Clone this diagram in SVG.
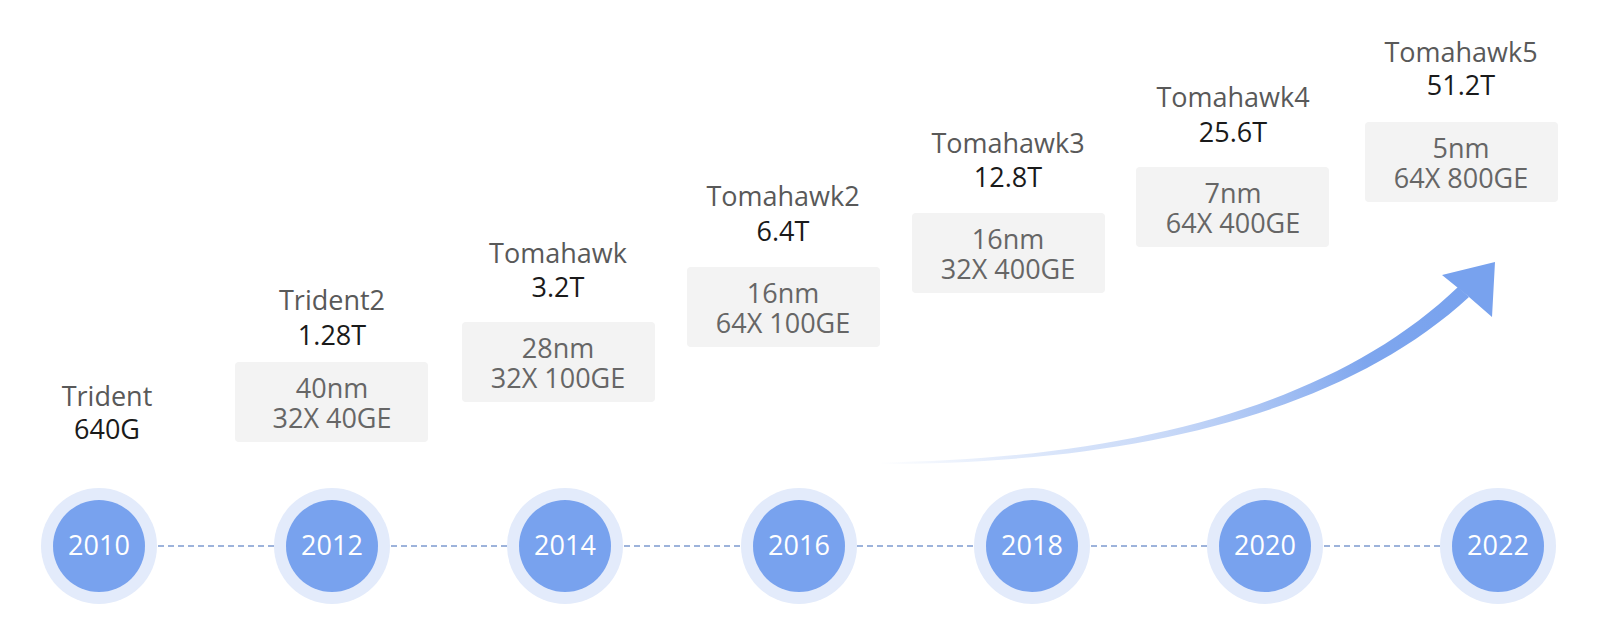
<svg xmlns="http://www.w3.org/2000/svg" width="1600" height="632" viewBox="0 0 1600 632">
<defs>
<style>
text{font-family:"Open Sans","Noto Sans","Liberation Sans",sans-serif;font-size:27px;text-anchor:middle}
.t{fill:#595959}
.v{fill:#1a1a1a}
.b{fill:#666666}
.y{fill:#ffffff;font-size:27px}
.box{fill:#f3f3f3}
.ring{fill:#e3ebfb}
.dot{fill:#78a2ee}
.dash{stroke:#7d9bd0;stroke-width:1.6;stroke-dasharray:6 4;fill:none}
</style>
<linearGradient id="ag" gradientUnits="userSpaceOnUse" x1="878" y1="460" x2="1470" y2="280">
<stop offset="0" stop-color="#78a2ee" stop-opacity="0"/>
<stop offset="0.45" stop-color="#9dbbf2" stop-opacity="0.55"/>
<stop offset="0.8" stop-color="#7ea6ee" stop-opacity="1"/>
<stop offset="1" stop-color="#78a2ee" stop-opacity="1"/>
</linearGradient>
</defs>
<rect width="1600" height="632" fill="#ffffff"/>

<g id="connectors">
<line class="dash" x1="158" y1="546" x2="274" y2="546"/>
<line class="dash" x1="391" y1="546" x2="507" y2="546"/>
<line class="dash" x1="624" y1="546" x2="740" y2="546"/>
<line class="dash" x1="857" y1="546" x2="974" y2="546"/>
<line class="dash" x1="1091" y1="546" x2="1207" y2="546"/>
<line class="dash" x1="1324" y1="546" x2="1440" y2="546"/>
</g>

<g id="trend-arrow">
<path d="M878 462.5 C1130 459 1335 405 1458 287 L1469 297 C1342 414 1130 464 878 464 Z" fill="url(#ag)"/>
<path d="M1495 262 L1442 275 L1463 292 L1469 297 L1492 317 Z" fill="#78a2ee"/>
</g>

<g id="y2010"><circle class="ring" cx="99" cy="546" r="58"/><circle class="dot" cx="99" cy="546" r="46"/><text class="y" x="99" y="555">2010</text></g>
<g id="y2012"><circle class="ring" cx="332" cy="546" r="58"/><circle class="dot" cx="332" cy="546" r="46"/><text class="y" x="332" y="555">2012</text></g>
<g id="y2014"><circle class="ring" cx="565" cy="546" r="58"/><circle class="dot" cx="565" cy="546" r="46"/><text class="y" x="565" y="555">2014</text></g>
<g id="y2016"><circle class="ring" cx="799" cy="546" r="58"/><circle class="dot" cx="799" cy="546" r="46"/><text class="y" x="799" y="555">2016</text></g>
<g id="y2018"><circle class="ring" cx="1032" cy="546" r="58"/><circle class="dot" cx="1032" cy="546" r="46"/><text class="y" x="1032" y="555">2018</text></g>
<g id="y2020"><circle class="ring" cx="1265" cy="546" r="58"/><circle class="dot" cx="1265" cy="546" r="46"/><text class="y" x="1265" y="555">2020</text></g>
<g id="y2022"><circle class="ring" cx="1498" cy="546" r="58"/><circle class="dot" cx="1498" cy="546" r="46"/><text class="y" x="1498" y="555">2022</text></g>

<g id="trident">
<text class="t" x="107" y="406">Trident</text>
<text class="v" x="107" y="439">640G</text>
</g>

<g id="trident2">
<text class="t" x="332" y="310">Trident2</text>
<text class="v" x="332" y="345">1.28T</text>
<rect class="box" x="235" y="362" width="193" height="80" rx="4"/>
<text class="b" x="332" y="398">40nm</text>
<text class="b" x="332" y="428">32X 40GE</text>
</g>

<g id="tomahawk">
<text class="t" x="558" y="263">Tomahawk</text>
<text class="v" x="558" y="297">3.2T</text>
<rect class="box" x="462" y="322" width="193" height="80" rx="4"/>
<text class="b" x="558" y="358">28nm</text>
<text class="b" x="558" y="388">32X 100GE</text>
</g>

<g id="tomahawk2">
<text class="t" x="783" y="206">Tomahawk2</text>
<text class="v" x="783" y="241">6.4T</text>
<rect class="box" x="687" y="267" width="193" height="80" rx="4"/>
<text class="b" x="783" y="303">16nm</text>
<text class="b" x="783" y="333">64X 100GE</text>
</g>

<g id="tomahawk3">
<text class="t" x="1008" y="153">Tomahawk3</text>
<text class="v" x="1008" y="187">12.8T</text>
<rect class="box" x="912" y="213" width="193" height="80" rx="4"/>
<text class="b" x="1008" y="249">16nm</text>
<text class="b" x="1008" y="279">32X 400GE</text>
</g>

<g id="tomahawk4">
<text class="t" x="1233" y="107">Tomahawk4</text>
<text class="v" x="1233" y="142">25.6T</text>
<rect class="box" x="1136" y="167" width="193" height="80" rx="4"/>
<text class="b" x="1233" y="203">7nm</text>
<text class="b" x="1233" y="233">64X 400GE</text>
</g>

<g id="tomahawk5">
<text class="t" x="1461" y="62">Tomahawk5</text>
<text class="v" x="1461" y="95">51.2T</text>
<rect class="box" x="1365" y="122" width="193" height="80" rx="4"/>
<text class="b" x="1461" y="158">5nm</text>
<text class="b" x="1461" y="188">64X 800GE</text>
</g>
</svg>
